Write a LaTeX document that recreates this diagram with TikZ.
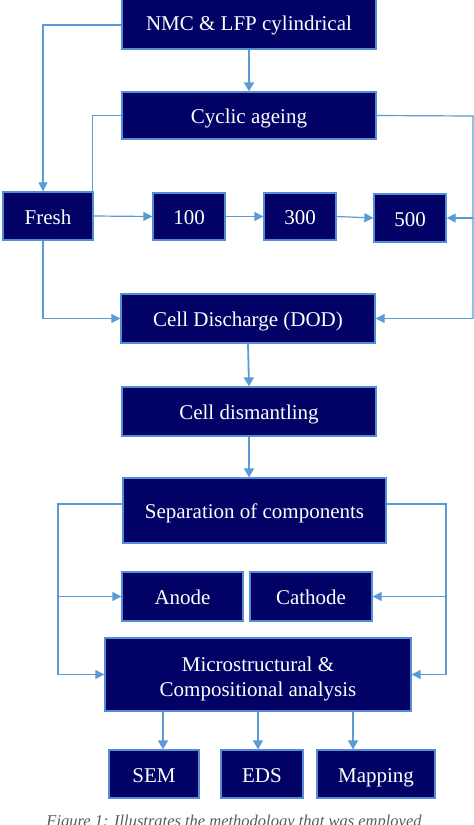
\documentclass[tikz,border=0pt]{standalone}
\usepackage{fontspec}
\setmainfont{Liberation Serif}
\usetikzlibrary{arrows.meta}
\definecolor{boxfill}{RGB}{2,2,102}
\definecolor{boxline}{RGB}{84,141,212}
\definecolor{conn}{RGB}{91,155,213}
\definecolor{captcol}{RGB}{90,90,90}
\begin{document}
\begin{tikzpicture}[x=1pt,y=-1pt,
  box/.style={draw=boxline, line width=1.3pt, fill=boxfill, text=white,
    font=\fontsize{21}{25}\selectfont, inner sep=0pt, align=center},
  one/.style={text height=17pt, text depth=1pt},
  link/.style={draw=conn, line width=1.2pt},
  arr/.style={link, -{Triangle[length=9pt,width=9pt]}},
  varr/.style={draw=conn, line width=1.8pt, -{Triangle[length=9pt,width=10pt]}}]
\useasboundingbox (0,0) rectangle (474,825);
% nodes
\node[box, one, minimum width=254pt, minimum height=54pt] (nmc) at (249,22) {NMC \& LFP cylindrical};
\node[box, one, minimum width=254pt, minimum height=47pt] (cyc) at (249,115.5) {Cyclic ageing};
\node[box, one, minimum width=90pt, minimum height=48pt] (fresh) at (48,216) {Fresh};
\node[box, one, minimum width=72pt, minimum height=47pt] (n100) at (189,216.5) {100};
\node[box, one, minimum width=72pt, minimum height=47pt] (n300) at (300,216.5) {300};
\node[box, one, minimum width=72pt, minimum height=48pt] (n500) at (410,218) {500};
\node[box, one, minimum width=254pt, minimum height=49pt] (cdd) at (248,318.5) {Cell Discharge (DOD)};
\node[box, one, minimum width=254pt, minimum height=49pt] (dis) at (249,411.5) {Cell dismantling};
\node[box, one, minimum width=263pt, minimum height=65pt] (sep) at (254.5,510.5) {Separation of components};
\node[box, one, minimum width=121pt, minimum height=49pt] (anode) at (182.5,596.5) {Anode};
\node[box, one, minimum width=122pt, minimum height=49pt] (cath) at (311,596.5) {Cathode};
\node[box, minimum width=306pt, minimum height=73pt] (micro) at (258,674.5) {\raisebox{-4pt}[\height][\depth]{\begin{tabular}{@{}c@{}}Microstructural \&\\Compositional analysis\end{tabular}}};
\node[box, one, minimum width=90pt, minimum height=48pt] (sem) at (154,774) {SEM};
\node[box, one, minimum width=82pt, minimum height=48pt] (eds) at (262,774) {EDS};
\node[box, one, minimum width=118pt, minimum height=48pt] (map) at (376,774) {Mapping};
\node[anchor=base, text=captcol, font=\fontsize{16.5}{19}\selectfont\itshape] (cap) at (234,826) {Figure 1: Illustrates the methodology that was employed};
% coordinates
\coordinate (lft) at (43,25);
\coordinate (rr) at (473,116);
\coordinate (ls) at (58,504);
\coordinate (rs) at (446,504);
% connectors
\draw[arr] (nmc.west |- lft) -| (fresh.north -| lft);
\draw[varr] (nmc.south) -- (cyc.north);
\draw[link] (cyc.west) -| ([xshift=-1pt]fresh.north east);
\draw[link] (cyc.east) -- (rr) -- (rr |- cdd.east);
\draw[arr] (rr |- n500.east) -- (n500.east);
\draw[arr] (rr |- cdd.east) -- (cdd.east);
\draw[arr] (fresh.east) -- (n100.west);
\draw[arr] (n100.east) -- (n300.west);
\draw[arr] (n300.east) -- (n500.west);
\draw[arr] (fresh.south -| lft) |- (cdd.west);
\draw[varr] (cdd.south) -- (dis.south |- dis.north);
\draw[varr] (dis.south) -- (dis.south |- sep.north);
\draw[link] (sep.west |- ls) -- (ls) -- (ls |- micro.west);
\draw[arr] (ls |- anode.west) -- (anode.west);
\draw[arr] (ls |- micro.west) -- (micro.west);
\draw[link] (sep.east |- rs) -- (rs) -- (rs |- micro.east);
\draw[arr] (rs |- cath.east) -- (cath.east);
\draw[arr] (rs |- micro.east) -- (micro.east);
\draw[varr] (micro.south -| 163,0) -- (sem.north -| 163,0);
\draw[varr] (micro.south -| 258,0) -- (eds.north -| 258,0);
\draw[varr] (micro.south -| 353,0) -- (map.north -| 353,0);
\end{tikzpicture}
\end{document}
